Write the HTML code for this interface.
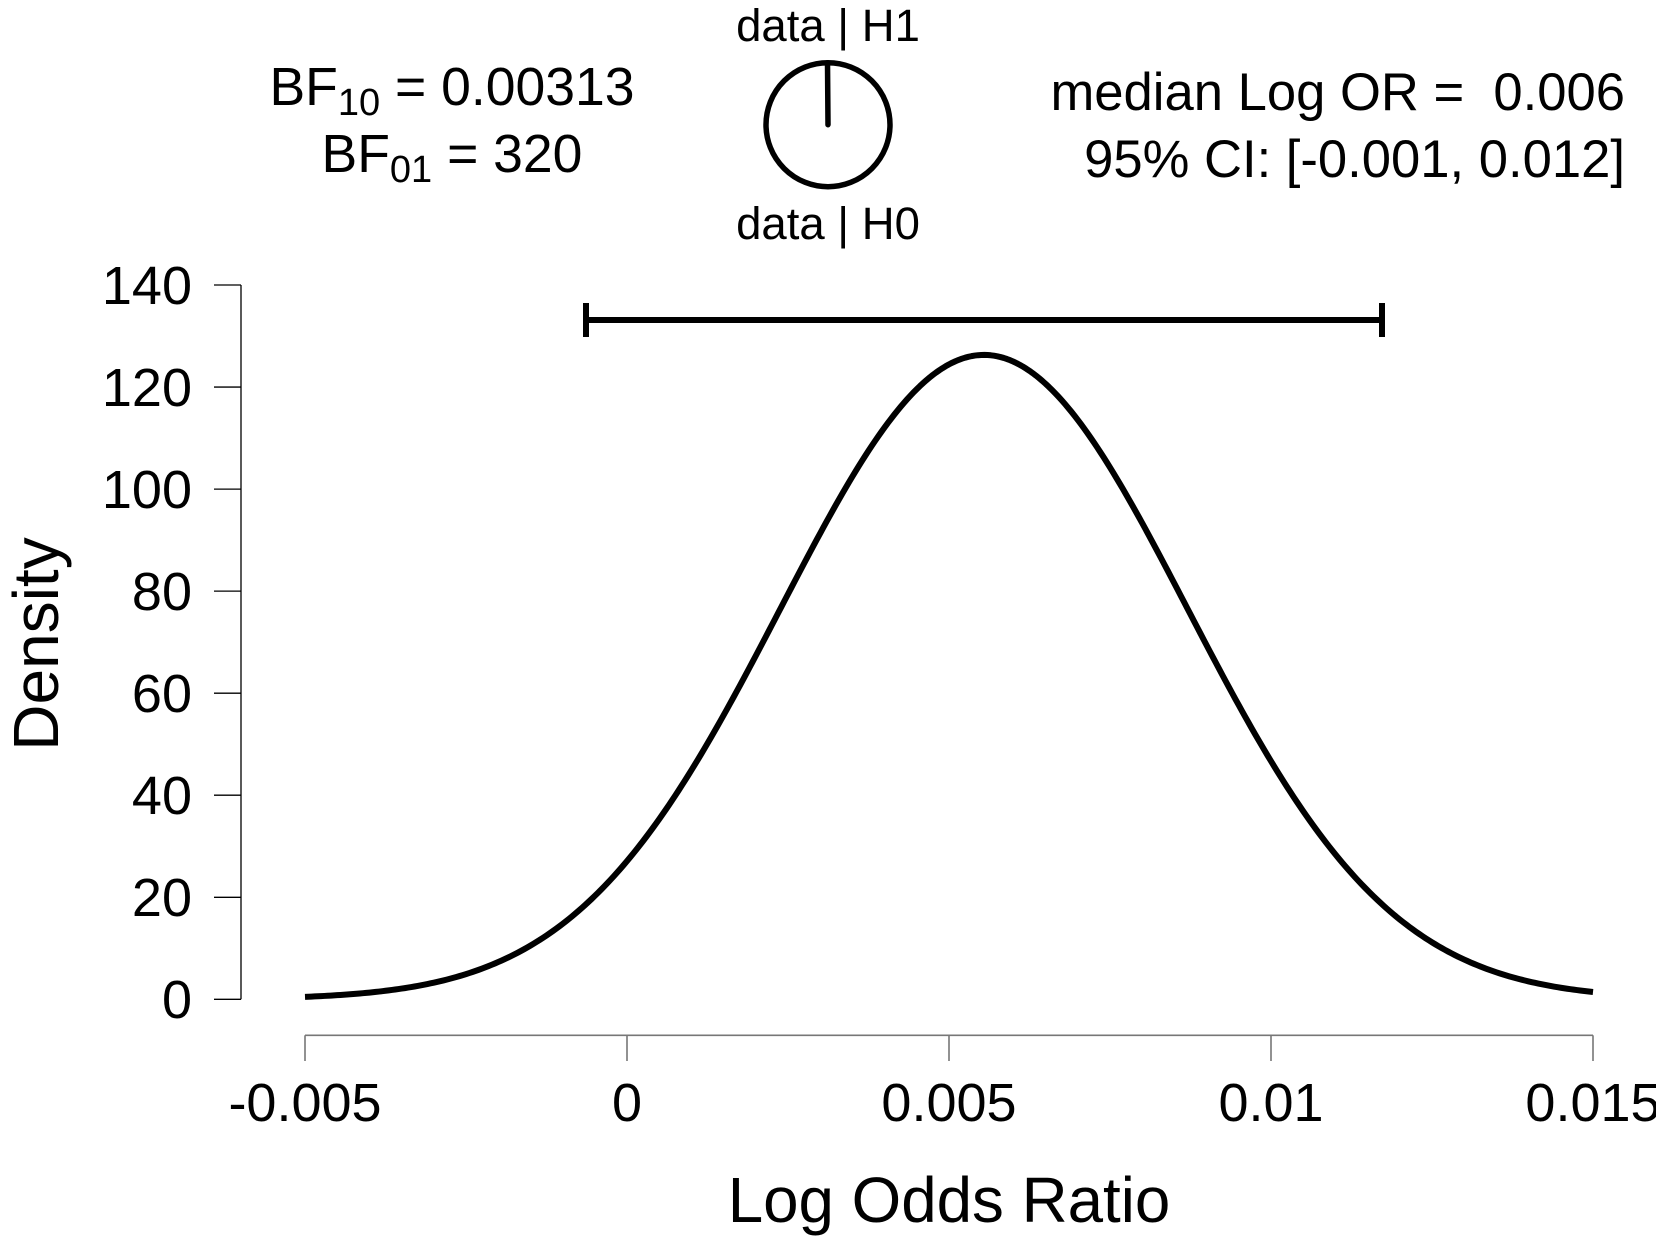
<!DOCTYPE html>
<html>
<head>
<meta charset="utf-8">
<style>
  html, body { margin: 0; padding: 0; background: #ffffff; }
  body { width: 1656px; height: 1250px; overflow: hidden; }
  svg { display: block; }
  text { font-family: "Liberation Sans", Arial, sans-serif; fill: #000; }
</style>
</head>
<body>
<svg width="1656" height="1250" viewBox="0 0 1656 1250" xmlns="http://www.w3.org/2000/svg">
  <rect x="0" y="0" width="1656" height="1250" fill="#ffffff"/>

  <!-- Bayes factor text -->
  <text x="452" y="105" font-size="53.5" text-anchor="middle">BF<tspan font-size="38" dy="10">10</tspan><tspan dy="-10"> = 0.00313</tspan></text>
  <text x="452" y="172" font-size="53.5" text-anchor="middle">BF<tspan font-size="38" dy="10">01</tspan><tspan dy="-10"> = 320</tspan></text>

  <!-- Pizza plot -->
  <text x="828" y="41" font-size="45.5" text-anchor="middle">data | H1</text>
  <circle cx="828" cy="124.7" r="62" fill="none" stroke="#000" stroke-width="5.5"/>
  <line x1="828" y1="124.7" x2="827.5" y2="62.7" stroke="#000" stroke-width="5.5" stroke-linecap="round"/>
  <text x="828" y="239" font-size="45.5" text-anchor="middle">data | H0</text>

  <!-- Median / CI text -->
  <text x="1625" y="110" font-size="52.6" text-anchor="end" style="white-space:pre">median Log OR =  0.006</text>
  <text x="1625" y="177" font-size="52.6" text-anchor="end">95% CI: [-0.001, 0.012]</text>

  <!-- CI bar -->
  <g stroke="#000" stroke-width="6" fill="none">
    <line x1="586" y1="320" x2="1382" y2="320"/>
    <line x1="586" y1="303" x2="586" y2="337"/>
    <line x1="1382" y1="303" x2="1382" y2="337"/>
  </g>

  <!-- Y axis -->
  <g stroke="#000" stroke-width="1.3" fill="none">
    <line x1="241" y1="285" x2="241" y2="999.3"/>
    <line x1="214" y1="285" x2="241" y2="285"/>
    <line x1="214" y1="387.04" x2="241" y2="387.04"/>
    <line x1="214" y1="489.1" x2="241" y2="489.1"/>
    <line x1="214" y1="591.1" x2="241" y2="591.1"/>
    <line x1="214" y1="693.2" x2="241" y2="693.2"/>
    <line x1="214" y1="795.2" x2="241" y2="795.2"/>
    <line x1="214" y1="897.3" x2="241" y2="897.3"/>
    <line x1="214" y1="999.3" x2="241" y2="999.3"/>
  </g>
  <g font-size="54" text-anchor="end">
    <text x="192" y="304">140</text>
    <text x="192" y="406">120</text>
    <text x="192" y="508">100</text>
    <text x="192" y="610">80</text>
    <text x="192" y="712">60</text>
    <text x="192" y="814">40</text>
    <text x="192" y="916">20</text>
    <text x="192" y="1018">0</text>
  </g>

  <!-- X axis -->
  <g stroke="#777" stroke-width="1.6" fill="none">
    <line x1="305" y1="1035.3" x2="1593" y2="1035.3"/>
    <line x1="305" y1="1035.3" x2="305" y2="1061"/>
    <line x1="627" y1="1035.3" x2="627" y2="1061"/>
    <line x1="949" y1="1035.3" x2="949" y2="1061"/>
    <line x1="1271" y1="1035.3" x2="1271" y2="1061"/>
    <line x1="1593" y1="1035.3" x2="1593" y2="1061"/>
  </g>
  <g font-size="54" text-anchor="middle">
    <text x="305" y="1121">-0.005</text>
    <text x="627" y="1121">0</text>
    <text x="949" y="1121">0.005</text>
    <text x="1271" y="1121">0.01</text>
    <text x="1593" y="1121">0.015</text>
  </g>

  <!-- Axis titles -->
  <text x="949" y="1222" font-size="63.7" text-anchor="middle">Log Odds Ratio</text>
  <text x="58" y="644" font-size="64" text-anchor="middle" transform="rotate(-90 58 644)">Density</text>

  <!-- Density curve -->
  <polyline id="curve" fill="none" stroke="#000" stroke-width="6" stroke-linejoin="round" stroke-linecap="butt"
    points="305,996.84 337.2,995.19 369.4,992.58 401.6,988.59 433.8,982.67 466,974.10 498.2,962.05 530.4,945.61 562.6,923.86 594.8,895.90 627,861.09 659.2,819.12 691.4,770.19 723.6,715.19 755.8,655.75 788,594.13 820.2,533.24 852.4,476.51 884.6,427.37 916.8,389.10 949,364.36 981.2,354.97 1013.4,361.60 1045.6,383.84 1077.8,419.95 1110,467.42 1142.2,523.11 1174.4,583.50 1206.6,645.23 1238.8,705.24 1271,761.14 1303.2,811.18 1335.4,854.38 1367.6,890.40 1399.8,919.52 1432,942.27 1464.2,959.57 1496.4,972.31 1528.6,981.40 1560.8,987.73 1593,992.01"/>
</svg>
<script>
(function(){
  var mu = 0.005543, sd = 0.003159, peak = 126.3;
  var pts = [];
  for (var i = 0; i <= 400; i++) {
    var v = -0.005 + i * 0.02 / 400;
    var z = (v - mu) / sd;
    var d = peak * Math.exp(-z * z / 2);
    var x = 305 + (v + 0.005) * 64400;
    var y = 999.3 - d * 5.102;
    pts.push(x.toFixed(2) + "," + y.toFixed(2));
  }
  var el = document.getElementById("curve");
  if (el) el.setAttribute("points", pts.join(" "));
})();
</script>
</body>
</html>
